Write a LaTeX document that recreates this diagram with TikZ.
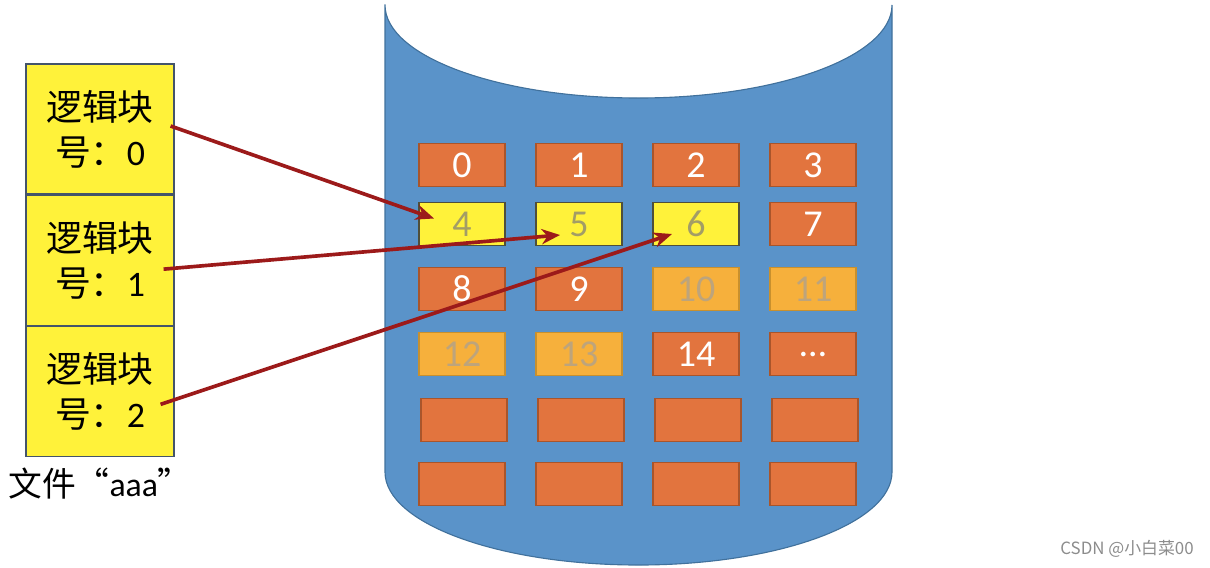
\documentclass[tikz,border=0pt]{standalone}
\usepackage{fontspec}
\setmainfont{Carlito}
\newfontfamily\cjk{Noto Sans CJK SC}
\usetikzlibrary{arrows.meta,calc,positioning}

\definecolor{diskblue}{HTML}{5A93C9}
\definecolor{diskedge}{HTML}{41719C}
\definecolor{blkorange}{HTML}{E2743E}
\definecolor{blkedge}{HTML}{A9552B}
\definecolor{usedyellow}{HTML}{FFF23A}
\definecolor{usededge}{HTML}{4F4F3A}
\definecolor{usedtext}{HTML}{A39D66}
\definecolor{takenorange}{HTML}{F6B03C}
\definecolor{takenedge}{HTML}{C8902E}
\definecolor{takentext}{HTML}{BDA47C}
\definecolor{boxedge}{HTML}{44546A}
\definecolor{linkred}{HTML}{9C1A1A}

\begin{document}
\begin{tikzpicture}[
  x=0.025cm, y=-0.025cm,
  blk/.style={draw=blkedge, fill=blkorange, text=white, line width=0.8pt,
    minimum width=2.15cm, minimum height=1.075cm, inner sep=0pt,
    font=\fontsize{27}{30}\selectfont},
  used/.style={blk, draw=usededge, fill=usedyellow, text=usedtext},
  taken/.style={blk, draw=takenedge, fill=takenorange, text=takentext},
  filebox/.style={draw=boxedge, fill=usedyellow, line width=0.8pt,
    minimum width=3.7cm, minimum height=3.25cm, inner sep=0pt, align=center,
    font=\cjk\fontsize{25.5}{32}\selectfont},
  link/.style={-{Stealth[length=4.6mm,width=3.8mm]}, line width=2.6pt, draw=linkred},
  wmtext/.style={text=black!45, font=\cjk\fontsize{12}{14}\selectfont}
]
\useasboundingbox (0,0) rectangle (1210,567);

% Disk cylinder.
\filldraw[fill=diskblue, draw=diskedge, line width=0.8pt]
  (385,5) -- (385,472) arc[start angle=180, end angle=0, x radius=253.5, y radius=93]
  -- (892,5) arc[start angle=0, end angle=180, x radius=253.5, y radius=93] -- cycle;

% Physical blocks.
\def\rowy{{165,224,289,354,420,484}}
\foreach \lbl/\sty [count=\i from 0] in {0/blk, 1/blk, 2/blk, 3/blk,
    4/used, 5/used, 6/used, 7/blk, 8/blk, 9/blk, 10/taken, 11/taken,
    12/taken, 13/taken, 14/blk, \raisebox{-0.25ex}{\ldots}/blk} {
  \pgfmathtruncatemacro\row{int(\i/4)}
  \pgfmathtruncatemacro\col{mod(\i,4)}
  \pgfmathsetmacro\yy{\rowy[\row]}
  \node[\sty] (b\i) at ({462+117*\col},\yy) {\lbl};
}
\foreach \r in {4,5} {
  \foreach \c in {0,1,2,3} {
    \pgfmathsetmacro\yy{\rowy[\r]}
    \node[blk] (e\r\c) at ({464-2*(\r-4)+117*\c},\yy) {};
  }
}

% File "aaa" logical blocks.
\node[filebox] (f0) at (100,129) {逻辑块\\号：{\rmfamily 0}};
\node[filebox, below=0pt of f0] (f1) {逻辑块\\号：{\rmfamily 1}};
\node[filebox, below=0pt of f1] (f2) {逻辑块\\号：{\rmfamily 2}};
\node[below=1.6mm of f2, font=\fontsize{24}{26}\selectfont] (fname)
  {{\cjk 文件“}aaa{\cjk ”}};

% Mapping to physical blocks.
\draw[link] ($(f0.east)+(-4,-3)$) -- ($(b4.center)+(-28,-5.5)$);
\draw[link] ($(f1.east)+(-11,9)$) -- ($(b5.center)+(-19,11)$);
\draw[link] ($(f2.east)+(-14,13)$) -- ($(b6.center)+(-24,10)$);

\node[wmtext] (wm) at (1127,549) {CSDN @小白菜00};

\end{tikzpicture}
\end{document}
